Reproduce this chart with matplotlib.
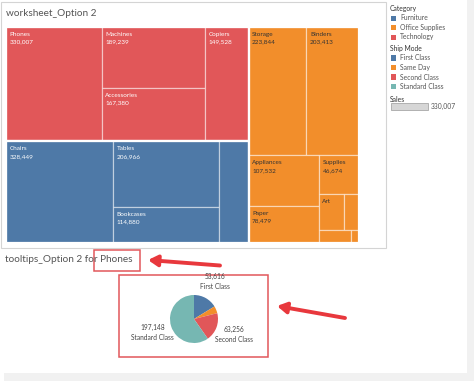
import math
import matplotlib
matplotlib.use("Agg")
import matplotlib.pyplot as plt
from matplotlib.patches import Rectangle

plt.rcParams['font.family'] = ['Lato', 'DejaVu Sans']

# ---------------- data ----------------
categories = ['Technology', 'Furniture', 'Office Supplies']
tech_subcats = ['Phones', 'Machines', 'Accessories', 'Copiers']
tech_sales = [330007, 189239, 167380, 149528]
furn_subcats = ['Chairs', 'Tables', 'Bookcases', 'Furnishings']
furn_sales = [328449, 206966, 114880, 91705]
office_subcats = ['Storage', 'Binders', 'Appliances', 'Paper', 'Supplies',
                  'Art', 'Envelopes', 'Labels', 'Fasteners']
office_sales = [223844, 203413, 107532, 78479, 46674, 27119, 16476, 12486, 3024]
legend_categories = ['Furniture', 'Office Supplies', 'Technology']
ship_modes = ['First Class', 'Same Day', 'Second Class', 'Standard Class']
phones_ship_sales = [53616, 15987, 63256, 197148]
max_sales = 330007

cat_colors = {'Technology': '#E15759', 'Furniture': '#4E79A7', 'Office Supplies': '#F28E2B'}
ship_colors = ['#4E79A7', '#F28E2B', '#E15759', '#76B7B2']

W, H = 474, 381
fig = plt.figure(figsize=(W / 100, H / 100), dpi=100)
ax = fig.add_axes([0, 0, 1, 1])
ax.set_xlim(0, W)
ax.set_ylim(H, 0)
ax.axis('off')


def squarify(values, x, y, w, h, target=1.125):
    out = []
    vals = list(values)
    i = 0
    while i < len(vals):
        rest = vals[i:]
        total = float(sum(rest))
        if len(rest) == 1:
            out.append((x, y, w, h))
            break
        col = w >= h
        length = h if col else w
        span = w if col else h
        best_k, best = 1, None
        for k in range(1, len(rest) + 1):
            s = sum(rest[:k])
            thick = span * s / total
            r = max(thick / length, length / thick)
            sc = abs(math.log(r / target))
            if best is None or sc < best:
                best, best_k = sc, k
            else:
                break
        row = rest[:best_k]
        s = float(sum(row))
        thick = span * s / total
        pos = y if col else x
        for v in row:
            seg = length * v / s
            if col:
                out.append((x, pos, thick, seg))
            else:
                out.append((pos, y, seg, thick))
            pos += seg
        if col:
            x += thick
            w -= thick
        else:
            y += thick
            h -= thick
        i += best_k
    return out


# ---------------- frames / background ----------------
ax.add_patch(Rectangle((467, 0), 7, H, facecolor='#f1f1f1', edgecolor='none'))
ax.add_patch(Rectangle((4, 373), 463, 8, facecolor='#f1f1f1', edgecolor='none'))
ax.add_patch(Rectangle((1.5, 1.5), 385, 246.5, facecolor='none', edgecolor='#d4d4d4', lw=0.8))

ax.text(6, 14, 'worksheet_Option 2', fontsize=7.2, color='#555555', va='center', ha='left')

# ---------------- treemap ----------------
tm_x, tm_y, tm_w, tm_h = 6, 27, 353, 216
subs = {'Technology': (tech_subcats, tech_sales),
        'Furniture': (furn_subcats, furn_sales),
        'Office Supplies': (office_subcats, office_sales)}
cat_totals = [sum(subs[c][1]) for c in categories]
cat_rects = squarify(cat_totals, tm_x, tm_y, tm_w, tm_h)

renderer = fig.canvas.get_renderer()
label_fs = 4.6
for cat, (cx, cy, cw, ch) in zip(categories, cat_rects):
    names, vals = subs[cat]
    color = cat_colors[cat]
    tcol = '#333333' if cat == 'Office Supplies' else 'white'
    for name, v, (x, y, w, h) in zip(names, vals, squarify(vals, cx, cy, cw, ch)):
        ax.add_patch(Rectangle((x, y), w, h, facecolor=color,
                               edgecolor=(1, 1, 1, 0.45), lw=0.9))
        if h < 16:
            continue
        t1 = ax.text(x + 3.5, y + 5, name, fontsize=label_fs, color=tcol, va='top', ha='left')
        if t1.get_window_extent(renderer).width + 7 > w:
            t1.remove()
            continue
        if h >= 22:
            t2 = ax.text(x + 3.5, y + 12.5, f'{v:,}', fontsize=label_fs, color=tcol,
                         va='top', ha='left')
            if t2.get_window_extent(renderer).width + 8 > w:
                t2.remove()
    ax.add_patch(Rectangle((cx, cy), cw, ch, facecolor='none', edgecolor='white', lw=1.6))

# ---------------- legend ----------------
leg_x = 391
leg_fs = 4.9
ax.text(leg_x - 1, 9, 'Category', fontsize=leg_fs, color='#333333', va='center')
for i, c in enumerate(legend_categories):
    yy = 18 + i * 9.5
    ax.add_patch(Rectangle((leg_x, yy - 2.5), 5, 5, facecolor=cat_colors[c], edgecolor='none'))
    ax.text(leg_x + 9, yy, c, fontsize=leg_fs, color='#555555', va='center')
ax.text(leg_x - 1, 49, 'Ship Mode', fontsize=leg_fs, color='#333333', va='center')
for i, (s, col) in enumerate(zip(ship_modes, ship_colors)):
    yy = 58 + i * 9.5
    ax.add_patch(Rectangle((leg_x, yy - 2.8), 5.5, 5.6, facecolor=col, edgecolor='none'))
    ax.text(leg_x + 9, yy, s, fontsize=leg_fs, color='#555555', va='center')
ax.text(leg_x - 1, 99, 'Sales', fontsize=leg_fs, color='#333333', va='center')
ax.add_patch(Rectangle((leg_x, 103), 37, 7, facecolor='#d6d6d6', edgecolor='#a8a8a8', lw=0.6))
ax.text(leg_x + 40, 106.5, f'{max_sales:,}', fontsize=leg_fs, color='#555555', va='center')

# ---------------- tooltip section ----------------
ax.text(5, 259, 'tooltips_Option 2 for Phones', fontsize=7.2, color='#555555',
        va='center', ha='left')
red = '#dd3b3f'
ax.add_patch(Rectangle((94, 250), 46, 21, facecolor='none', edgecolor=red, lw=1.1, alpha=0.85))
ax.add_patch(Rectangle((119, 275), 149, 82, facecolor='none', edgecolor=red, lw=1.1, alpha=0.85))
arrow_kw = dict(arrowstyle='-|>,head_length=0.55,head_width=0.32', color='#e8383d', lw=2.8,
                shrinkA=0, shrinkB=0)
ax.annotate('', xy=(148, 260), xytext=(220, 265.5), arrowprops=arrow_kw)
ax.annotate('', xy=(277, 306), xytext=(345, 318), arrowprops=arrow_kw)

# pie
pcx, pcy, pr = 194, 319, 24
pax = fig.add_axes([(pcx - pr) / W, 1 - (pcy + pr) / H, 2 * pr / W, 2 * pr / H])
total_ph = sum(phones_ship_sales)
labels = [f'{v:,}\n{s}' if v / total_ph > 0.1 else '' for s, v in zip(ship_modes, phones_ship_sales)]
wedges, texts = pax.pie(phones_ship_sales, colors=ship_colors, startangle=90, counterclock=False,
                        labels=labels, labeldistance=1.8,
                        textprops=dict(fontsize=4.8, color='#444444', linespacing=1.5),
                        wedgeprops=dict(linewidth=0))
for t in texts:
    t.set_ha('center')
    t.set_va('center')
pax.set_xlim(-1, 1)
pax.set_ylim(-1, 1)
pax.set_aspect('equal')
pax.axis('off')

fig.savefig('out.png', dpi=100)
